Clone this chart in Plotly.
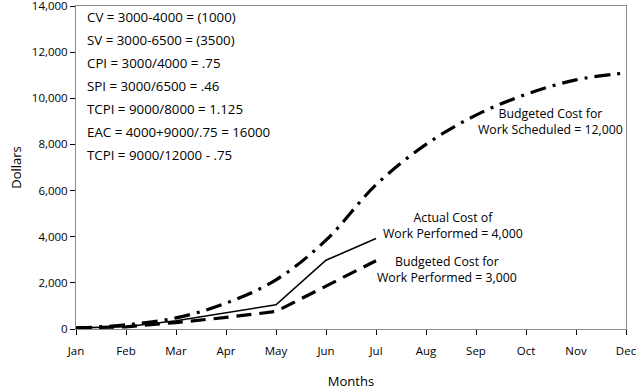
import plotly.graph_objects as go

months = ["Jan", "Feb", "Mar", "Apr", "May", "Jun", "Jul", "Aug", "Sep", "Oct", "Nov", "Dec"]
bcws = [40, 180, 480, 1120, 2130, 3850, 6250, 8000, 9270, 10170, 10800, 11100]
acwp = [50, 100, 360, 720, 1050, 2980, 3920]
bcwp = [50, 90, 280, 500, 760, 1860, 2960]

formulas = [
    "CV = 3000-4000 = (1000)",
    "SV = 3000-6500 = (3500)",
    "CPI = 3000/4000 = .75",
    "SPI = 3000/6500 = .46",
    "TCPI = 9000/8000 = 1.125",
    "EAC = 4000+9000/.75 = 16000",
    "TCPI = 9000/12000 - .75",
]

FONT = "Open Sans"
x_all = list(range(len(months)))

fig = go.Figure()
fig.add_trace(go.Scatter(x=x_all, y=bcws, mode="lines",
                         line=dict(color="black", width=3.2, dash="16px,7px,3px,7px"),
                         line_shape="spline", showlegend=False))
fig.add_trace(go.Scatter(x=x_all[:len(acwp)], y=acwp, mode="lines",
                         line=dict(color="black", width=1.6), showlegend=False))
fig.add_trace(go.Scatter(x=x_all[:len(bcwp)], y=bcwp, mode="lines",
                         line=dict(color="black", width=3.2, dash="15px,8px"), showlegend=False))

plot_top, plot_bot = 6, 329
anns = []
for i, t in enumerate(formulas):
    ypix = 17 + 23 * i
    anns.append(dict(x=8.5 / 550, xref="paper", y=(plot_bot - ypix) / (plot_bot - plot_top),
                     yref="paper", text=t, showarrow=False, xanchor="left", yanchor="middle",
                     font=dict(family=FONT, size=13.3, color="black")))

def lab(x, ypix, text):
    return dict(x=x, xref="x", y=(plot_bot - ypix) / (plot_bot - plot_top), yref="paper",
                text=text, showarrow=False, xanchor="center", yanchor="middle",
                font=dict(family=FONT, size=12.3, color="black"))

anns.append(lab(9.48, 121, "Budgeted Cost for<br>Work Scheduled = 12,000"))
anns.append(lab(7.54, 225, "Actual Cost of<br>Work Performed = 4,000"))
anns.append(lab(7.42, 269, "Budgeted Cost for<br>Work Performed = 3,000"))

fig.update_layout(
    width=638, height=390,
    margin=dict(l=76, r=12, t=6, b=61),
    paper_bgcolor="white", plot_bgcolor="white",
    font=dict(family=FONT, size=11.5, color="black"),
    annotations=anns,
    xaxis=dict(range=[0, 11], tickvals=x_all, ticktext=months, automargin=False,
               showgrid=False, zeroline=False, showline=True, linecolor="#8c8c8c",
               linewidth=1, mirror=True, ticks="outside", ticklen=5, tickcolor="black",
               ticklabelstandoff=6, ticklabeloverflow="allow",
               title=dict(text="Months", standoff=22, font=dict(size=13))),
    yaxis=dict(range=[0, 14000], tickvals=list(range(0, 14001, 2000)), automargin=False,
               tickformat=",d", showgrid=False, zeroline=False, showline=True,
               linecolor="#8c8c8c", linewidth=1, mirror=True, ticks="outside",
               ticklen=5, tickcolor="black", ticklabeloverflow="allow",
               title=dict(text="Dollars", standoff=7, font=dict(size=13))),
)

fig.write_html("out.html", config={"displayModeBar": False},
               post_script="document.body.style.margin='0';")
